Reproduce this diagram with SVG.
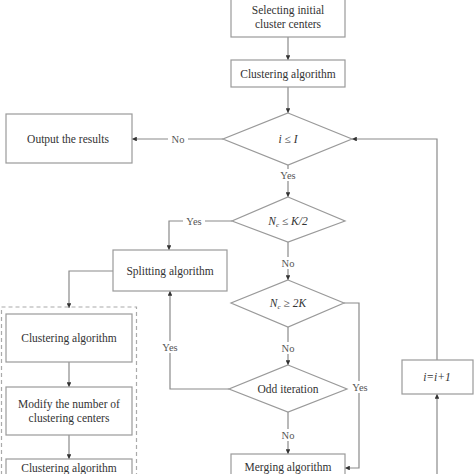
<svg xmlns="http://www.w3.org/2000/svg" width="474" height="474" viewBox="0 0 474 474">
<style>
.box{fill:#fff;stroke:#9a9a9a;stroke-width:1.2}
.dia{fill:#fff;stroke:#9a9a9a;stroke-width:1.2}
.ln{fill:none;stroke:#8a8a8a;stroke-width:1.2}
.t{font-family:"Liberation Serif","Times New Roman",serif;font-size:11.5px;fill:#333;text-anchor:middle}
.it{font-style:italic}
.lb{font-family:"Liberation Serif","Times New Roman",serif;font-size:10.5px;fill:#555;text-anchor:middle}
.lbg{fill:#fff}
</style>
<defs>
<marker id="ah" viewBox="0 0 6 6" refX="6" refY="3" markerWidth="4" markerHeight="4" orient="auto">
<path d="M0,0 L6,3 L0,6 z" fill="#333"/>
</marker>
</defs>
<rect width="474" height="474" fill="#fff"/>
<g id="connectors">
<line class="ln" x1="288" y1="37" x2="288" y2="60" marker-end="url(#ah)"/>
<line class="ln" x1="288" y1="87" x2="288" y2="113" marker-end="url(#ah)"/>
<line class="ln" x1="223" y1="139" x2="132" y2="139" marker-end="url(#ah)"/>
<line class="ln" x1="288" y1="165" x2="288" y2="197" marker-end="url(#ah)"/>
<polyline class="ln" points="232,221 169,221 169,250" marker-end="url(#ah)"/>
<line class="ln" x1="288" y1="242" x2="288" y2="280" marker-end="url(#ah)"/>
<line class="ln" x1="288" y1="327" x2="288" y2="365" marker-end="url(#ah)"/>
<polyline class="ln" points="229,389 170,389 170,291" marker-end="url(#ah)"/>
<polyline class="ln" points="344,303 359,303 359,468 345,468" marker-end="url(#ah)"/>
<line class="ln" x1="288" y1="412" x2="288" y2="454" marker-end="url(#ah)"/>
<polyline class="ln" points="113,271 69,271 69,308" marker-end="url(#ah)"/>
<line class="ln" x1="69" y1="362" x2="69" y2="387" marker-end="url(#ah)"/>
<line class="ln" x1="69" y1="435" x2="69" y2="459" marker-end="url(#ah)"/>
<line class="ln" x1="437" y1="474" x2="437" y2="394" marker-end="url(#ah)"/>
<polyline class="ln" points="437,360 437,139 352,139" marker-end="url(#ah)"/>
<rect class="lbg" x="168" y="133" width="20" height="12"/>
<text class="lb" x="178" y="143">No</text>
<rect class="lbg" x="277" y="169" width="22" height="12"/>
<text class="lb" x="288" y="179">Yes</text>
<rect class="lbg" x="183" y="215" width="22" height="12"/>
<text class="lb" x="194" y="225">Yes</text>
<rect class="lbg" x="278" y="257" width="20" height="12"/>
<text class="lb" x="288" y="267">No</text>
<rect class="lbg" x="278" y="342" width="20" height="12"/>
<text class="lb" x="288" y="352">No</text>
<rect class="lbg" x="159" y="341" width="22" height="12"/>
<text class="lb" x="170" y="351">Yes</text>
<rect class="lbg" x="349" y="381" width="22" height="12"/>
<text class="lb" x="360" y="391">Yes</text>
<rect class="lbg" x="278" y="429" width="20" height="12"/>
<text class="lb" x="288" y="439">No</text>
</g>
<g id="dashed-group">
<rect x="1.5" y="307" width="135" height="180" fill="none" stroke="#aaa" stroke-width="1.2" stroke-dasharray="4,3"/>
</g>
<g id="n-select">
<rect class="box" x="231" y="-5" width="114" height="42"/>
<text class="t" x="288" y="14">Selecting initial</text>
<text class="t" x="288" y="28">cluster centers</text>
</g>
<g id="n-cluster1">
<rect class="box" x="231" y="60" width="114" height="27"/>
<text class="t" x="288" y="78">Clustering algorithm</text>
</g>
<g id="n-d1">
<polygon class="dia" points="288,113 352,139 288,165 223,139"/>
<text class="t it" x="288" y="143">i ≤ I</text>
</g>
<g id="n-output">
<rect class="box" x="6" y="114" width="126" height="49"/>
<text class="t" x="68" y="143">Output the  results</text>
</g>
<g id="n-d2">
<polygon class="dia" points="288,197 345,221 288,242 232,221"/>
<text class="t it" x="288" y="225">N<tspan font-size="7" dy="2">c</tspan><tspan dy="-2"> ≤ K/2</tspan></text>
</g>
<g id="n-split">
<rect class="box" x="113" y="250" width="114" height="41"/>
<text class="t" x="170" y="275">Splitting algorithm</text>
</g>
<g id="n-d3">
<polygon class="dia" points="288,280 344,303 288,327 231,303"/>
<text class="t it" x="288" y="307">N<tspan font-size="7" dy="2">c</tspan><tspan dy="-2"> ≥ 2K</tspan></text>
</g>
<g id="n-d4">
<polygon class="dia" points="288,365 347,389 288,412 229,389"/>
<text class="t" x="288" y="393">Odd iteration</text>
</g>
<g id="n-merge">
<rect class="box" x="231" y="454" width="114" height="40"/>
<text class="t" x="288" y="471">Merging algorithm</text>
</g>
<g id="n-cluster2">
<rect class="box" x="6" y="314" width="126" height="48"/>
<text class="t" x="69" y="342">Clustering algorithm</text>
</g>
<g id="n-modify">
<rect class="box" x="6" y="387" width="126" height="48"/>
<text class="t" x="69" y="408">Modify the number of</text>
<text class="t" x="69" y="422">clustering centers</text>
</g>
<g id="n-bottomleft">
<rect class="box" x="6" y="459" width="126" height="40"/>
<text class="t" x="69" y="472">Clustering algorithm</text>
</g>
<g id="n-inc">
<rect class="box" x="402" y="360" width="71" height="34"/>
<text class="t it" x="437" y="381">i=i+1</text>
</g>
</svg>
